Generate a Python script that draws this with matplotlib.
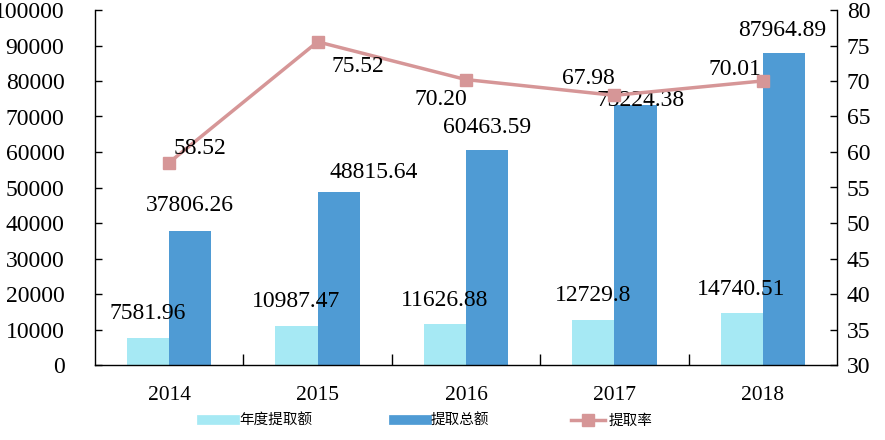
import matplotlib
matplotlib.use("Agg")
from matplotlib import pyplot as plt
from matplotlib.lines import Line2D
import numpy as np

years = ["2014", "2015", "2016", "2017", "2018"]
annual = [7581.96, 10987.47, 11626.88, 12729.8, 14740.51]
total = [37806.26, 48815.64, 60463.59, 73224.38, 87964.89]
rate = [58.52, 75.52, 70.20, 67.98, 70.01]
annual_txt = ["7581.96", "10987.47", "11626.88", "12729.8", "14740.51"]
total_txt = ["37806.26", "48815.64", "60463.59", "73224.38", "87964.89"]
rate_txt = ["58.52", "75.52", "70.20", "67.98", "70.01"]

c_light = "#a6e9f4"
c_blue = "#4f9bd4"
c_line = "#d69697"
num_font = ["Liberation Serif", "DejaVu Serif"]
cjk_font = ["Noto Sans CJK SC", "DejaVu Sans"]

# label offsets in pixels (hand placed like in the source chart)
annual_off = [(0, 25), (0, 24), (0, 23), (0, 24), (0, 23)]
total_off = [(0, 25), (35, 19), (0, 23), (5, 5), (-2, 22)]
rate_off = [(31, 14), (40, -25), (-25, -20), (-26, 17), (-28, 11)]

fig = plt.figure(figsize=(8.85, 4.4), dpi=100)
ax = fig.add_axes([95/885, 75/440, 742/885, 355/440])
ax2 = ax.twinx()

x = np.arange(len(years))
w = 0.285
ax.bar(x - w/2, annual, width=w, color=c_light, zorder=2)
ax.bar(x + w/2, total, width=w, color=c_blue, zorder=2)
ax2.plot(x, rate, color=c_line, lw=2.5, marker="s", ms=8, zorder=3)

for i in range(len(years)):
    ax.annotate(annual_txt[i], (x[i] - w/2, annual[i]), xytext=annual_off[i],
                textcoords="offset pixels", ha="center", va="center",
                fontsize=17, family=num_font)
    ax.annotate(total_txt[i], (x[i] + w/2, total[i]), xytext=total_off[i],
                textcoords="offset pixels", ha="center", va="center",
                fontsize=17, family=num_font)
    ax2.annotate(rate_txt[i], (x[i], rate[i]), xytext=rate_off[i],
                 textcoords="offset pixels", ha="center", va="center",
                 fontsize=17, family=num_font)

ax.set_xlim(-0.5, 4.5)
ax.set_ylim(0, 100000)
ax.set_yticks(np.arange(0, 100001, 10000))
ax2.set_ylim(30, 80)
ax2.set_yticks(np.arange(30, 81, 5))

ax.set_xticks(x)
ax.set_xticklabels(years, family=num_font, fontsize=15.5)
ax.set_xticks(np.arange(0.5, 4.5, 1), minor=True)
ax.tick_params(axis="x", which="major", length=0, pad=15)
ax.tick_params(axis="x", which="minor", direction="in", length=8, width=1)
ax.tick_params(axis="y", direction="in", length=5, width=1, pad=22, labelsize=17)
ax2.tick_params(axis="y", direction="in", length=5, width=1, pad=7, labelsize=17)
for lab in ax.get_yticklabels() + ax2.get_yticklabels():
    lab.set_family(num_font)

for a in (ax, ax2):
    a.spines["top"].set_visible(False)
    for s in ("left", "right", "bottom"):
        a.spines[s].set_linewidth(1)
ax.spines["right"].set_visible(False)
ax2.spines["left"].set_visible(False)
ax2.spines["bottom"].set_visible(False)

handles = [Line2D([], [], color=c_light, lw=7),
           Line2D([], [], color=c_blue, lw=7),
           Line2D([], [], color=c_line, lw=2.5, marker="s", ms=8)]
fig.legend(handles, ["年度提取额", "提取总额", "提取率"], loc="center",
           bbox_to_anchor=(427/885, 1 - 421/440), ncol=3, frameon=False,
           prop={"family": cjk_font, "size": 10.5}, handlelength=2.3,
           handletextpad=0.25, columnspacing=5.6)

fig.savefig("out.png", dpi=100)
